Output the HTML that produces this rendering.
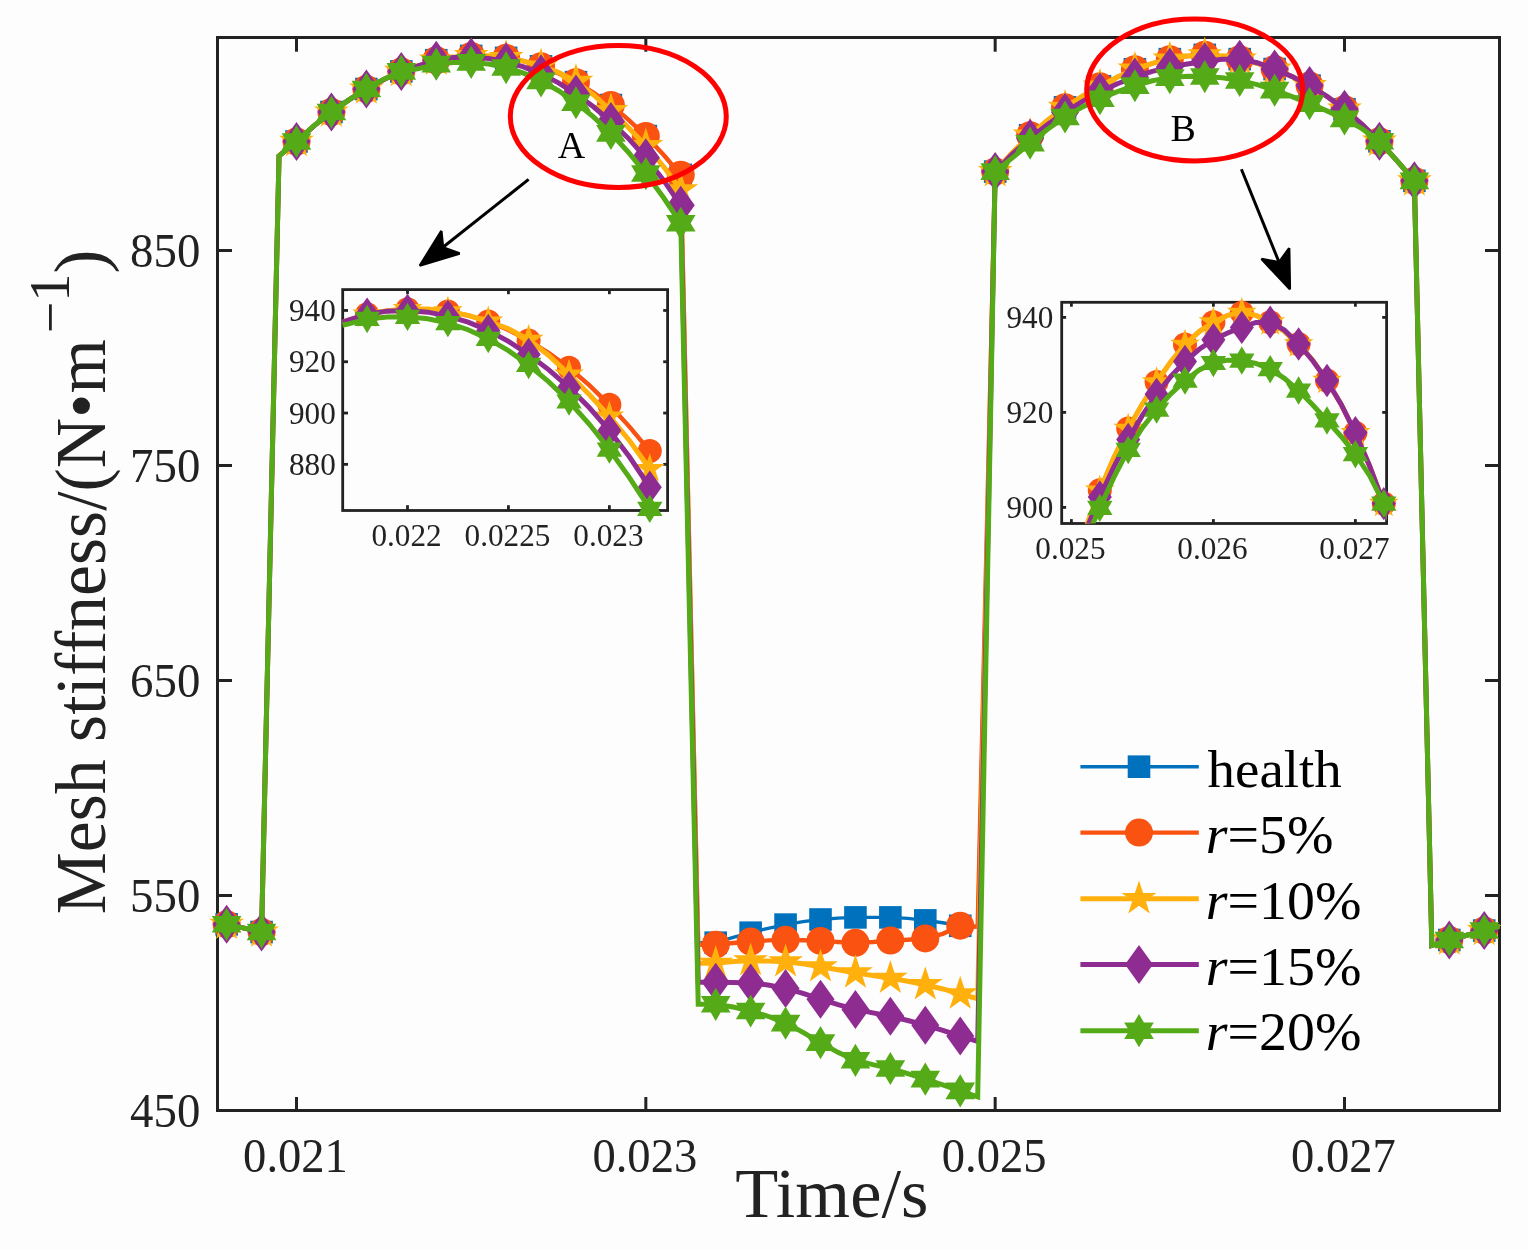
<!DOCTYPE html>
<html lang="en"><head><meta charset="utf-8"><title>Mesh stiffness</title>
<style>
html,body{margin:0;padding:0;background:#fdfdfd;}
body{width:1528px;height:1250px;overflow:hidden;}
svg{display:block;}
</style></head><body>
<svg width="1528" height="1250" viewBox="0 0 1528 1250" font-family="'Liberation Serif', serif">
<rect width="1528" height="1250" fill="#fdfdfd"/>
<defs>
<clipPath id="cm"><rect x="217.5" y="37.5" width="1282" height="1073"/></clipPath>
<clipPath id="ca"><rect x="342.7" y="289.6" width="324.9" height="220.9"/></clipPath>
<clipPath id="cb"><rect x="1061.7" y="302.3" width="324.9" height="221.2"/></clipPath>
</defs>
<g stroke="#222222" stroke-width="3" fill="none" stroke-linecap="butt">
<rect x="217.5" y="37.5" width="1282" height="1073"/>
<line x1="296.50" y1="1110.5" x2="296.50" y2="1097.00"/>
<line x1="296.50" y1="37.5" x2="296.50" y2="51.70"/>
<line x1="645.83" y1="1110.5" x2="645.83" y2="1097.00"/>
<line x1="645.83" y1="37.5" x2="645.83" y2="51.70"/>
<line x1="995.17" y1="1110.5" x2="995.17" y2="1097.00"/>
<line x1="995.17" y1="37.5" x2="995.17" y2="51.70"/>
<line x1="1344.50" y1="1110.5" x2="1344.50" y2="1097.00"/>
<line x1="1344.50" y1="37.5" x2="1344.50" y2="51.70"/>
<line x1="217.5" y1="895.50" x2="232.00" y2="895.50"/>
<line x1="1499.5" y1="895.50" x2="1485.00" y2="895.50"/>
<line x1="217.5" y1="680.50" x2="232.00" y2="680.50"/>
<line x1="1499.5" y1="680.50" x2="1485.00" y2="680.50"/>
<line x1="217.5" y1="465.50" x2="232.00" y2="465.50"/>
<line x1="1499.5" y1="465.50" x2="1485.00" y2="465.50"/>
<line x1="217.5" y1="250.50" x2="232.00" y2="250.50"/>
<line x1="1499.5" y1="250.50" x2="1485.00" y2="250.50"/>
</g>
<g id="main">
<polyline clip-path="url(#cm)" points="209.17,920.44 226.63,924.31 244.10,928.18 261.57,932.05 279.03,155.90 296.50,141.49 313.97,125.86 331.43,112.04 348.90,99.84 366.37,89.03 383.83,79.50 401.30,71.41 418.77,65.60 436.23,60.23 453.70,57.25 471.17,55.92 488.63,56.12 506.10,57.86 523.57,61.20 541.03,66.31 558.50,73.34 575.97,82.16 593.43,92.66 610.90,105.05 628.37,119.55 645.83,136.10 663.30,154.57 680.77,174.84 698.23,942.70 715.70,942.70 733.17,937.45 750.63,932.70 768.10,928.31 785.57,924.60 803.03,921.64 820.50,919.50 837.97,918.08 855.43,917.40 872.90,917.40 890.37,917.40 907.83,918.42 925.30,920.40 942.77,922.76 960.23,925.80 977.70,926.88 995.17,171.59 1012.63,152.34 1030.10,135.26 1047.57,120.28 1065.03,107.31 1082.50,96.17 1099.97,86.24 1117.43,77.07 1134.90,69.26 1152.37,63.41 1169.83,59.15 1187.30,56.08 1204.77,54.85 1222.23,56.08 1239.70,59.15 1257.17,63.40 1274.63,69.04 1292.10,76.45 1309.57,85.60 1327.03,96.45 1344.50,109.24 1361.97,124.23 1379.43,141.28 1396.90,160.63 1414.37,180.84 1431.83,945.38 1449.30,940.01 1466.77,935.27 1484.23,930.54 1501.70,925.81" fill="none" stroke="#0072BD" stroke-width="3.40" stroke-linejoin="miter" stroke-miterlimit="3"/>
<rect x="215.33" y="913.01" width="22.60" height="22.60" fill="#0072BD"/>
<rect x="250.27" y="920.75" width="22.60" height="22.60" fill="#0072BD"/>
<rect x="285.20" y="130.19" width="22.60" height="22.60" fill="#0072BD"/>
<rect x="320.13" y="100.74" width="22.60" height="22.60" fill="#0072BD"/>
<rect x="355.07" y="77.73" width="22.60" height="22.60" fill="#0072BD"/>
<rect x="390.00" y="60.11" width="22.60" height="22.60" fill="#0072BD"/>
<rect x="424.93" y="48.93" width="22.60" height="22.60" fill="#0072BD"/>
<rect x="459.87" y="44.62" width="22.60" height="22.60" fill="#0072BD"/>
<rect x="494.80" y="46.56" width="22.60" height="22.60" fill="#0072BD"/>
<rect x="529.73" y="55.01" width="22.60" height="22.60" fill="#0072BD"/>
<rect x="564.67" y="70.86" width="22.60" height="22.60" fill="#0072BD"/>
<rect x="599.60" y="93.75" width="22.60" height="22.60" fill="#0072BD"/>
<rect x="634.53" y="124.80" width="22.60" height="22.60" fill="#0072BD"/>
<rect x="669.47" y="163.54" width="22.60" height="22.60" fill="#0072BD"/>
<rect x="704.40" y="931.40" width="22.60" height="22.60" fill="#0072BD"/>
<rect x="739.33" y="921.40" width="22.60" height="22.60" fill="#0072BD"/>
<rect x="774.27" y="913.30" width="22.60" height="22.60" fill="#0072BD"/>
<rect x="809.20" y="908.20" width="22.60" height="22.60" fill="#0072BD"/>
<rect x="844.13" y="906.10" width="22.60" height="22.60" fill="#0072BD"/>
<rect x="879.07" y="906.10" width="22.60" height="22.60" fill="#0072BD"/>
<rect x="914.00" y="909.10" width="22.60" height="22.60" fill="#0072BD"/>
<rect x="948.93" y="914.50" width="22.60" height="22.60" fill="#0072BD"/>
<rect x="983.87" y="160.29" width="22.60" height="22.60" fill="#0072BD"/>
<rect x="1018.80" y="123.96" width="22.60" height="22.60" fill="#0072BD"/>
<rect x="1053.73" y="96.01" width="22.60" height="22.60" fill="#0072BD"/>
<rect x="1088.67" y="74.94" width="22.60" height="22.60" fill="#0072BD"/>
<rect x="1123.60" y="57.96" width="22.60" height="22.60" fill="#0072BD"/>
<rect x="1158.53" y="47.85" width="22.60" height="22.60" fill="#0072BD"/>
<rect x="1193.47" y="43.55" width="22.60" height="22.60" fill="#0072BD"/>
<rect x="1228.40" y="47.85" width="22.60" height="22.60" fill="#0072BD"/>
<rect x="1263.33" y="57.74" width="22.60" height="22.60" fill="#0072BD"/>
<rect x="1298.27" y="74.30" width="22.60" height="22.60" fill="#0072BD"/>
<rect x="1333.20" y="97.94" width="22.60" height="22.60" fill="#0072BD"/>
<rect x="1368.13" y="129.98" width="22.60" height="22.60" fill="#0072BD"/>
<rect x="1403.07" y="169.54" width="22.60" height="22.60" fill="#0072BD"/>
<rect x="1438.00" y="928.71" width="22.60" height="22.60" fill="#0072BD"/>
<rect x="1472.93" y="919.24" width="22.60" height="22.60" fill="#0072BD"/>
<polyline clip-path="url(#cm)" points="209.17,920.44 226.63,924.31 244.10,928.18 261.57,932.05 279.03,155.90 296.50,141.49 313.97,125.86 331.43,112.04 348.90,99.84 366.37,89.03 383.83,79.50 401.30,71.41 418.77,65.60 436.23,60.23 453.70,57.25 471.17,55.92 488.63,56.12 506.10,57.86 523.57,61.20 541.03,66.31 558.50,73.34 575.97,82.16 593.43,92.66 610.90,105.05 628.37,119.55 645.83,136.10 663.30,154.57 680.77,174.84 698.23,944.70 715.70,944.70 733.17,942.97 750.63,941.60 768.10,940.42 785.57,939.80 803.03,940.18 820.50,940.90 837.97,942.02 855.43,942.80 872.90,941.97 890.37,940.60 907.83,939.69 925.30,938.40 942.77,933.82 960.23,925.70 977.70,926.77 995.17,171.59 1012.63,152.34 1030.10,135.26 1047.57,120.28 1065.03,107.31 1082.50,96.17 1099.97,86.24 1117.43,77.07 1134.90,69.26 1152.37,63.41 1169.83,59.15 1187.30,56.08 1204.77,54.85 1222.23,56.08 1239.70,59.15 1257.17,63.40 1274.63,69.04 1292.10,76.45 1309.57,85.60 1327.03,96.45 1344.50,109.24 1361.97,124.23 1379.43,141.28 1396.90,160.63 1414.37,180.84 1431.83,945.38 1449.30,940.01 1466.77,935.27 1484.23,930.54 1501.70,925.81" fill="none" stroke="#FA5210" stroke-width="4.40" stroke-linejoin="miter" stroke-miterlimit="3"/>
<circle cx="226.63" cy="924.31" r="14.00" fill="#FA5210"/>
<circle cx="261.57" cy="932.05" r="14.00" fill="#FA5210"/>
<circle cx="296.50" cy="141.49" r="14.00" fill="#FA5210"/>
<circle cx="331.43" cy="112.04" r="14.00" fill="#FA5210"/>
<circle cx="366.37" cy="89.03" r="14.00" fill="#FA5210"/>
<circle cx="401.30" cy="71.41" r="14.00" fill="#FA5210"/>
<circle cx="436.23" cy="60.23" r="14.00" fill="#FA5210"/>
<circle cx="471.17" cy="55.92" r="14.00" fill="#FA5210"/>
<circle cx="506.10" cy="57.86" r="14.00" fill="#FA5210"/>
<circle cx="541.03" cy="66.31" r="14.00" fill="#FA5210"/>
<circle cx="575.97" cy="82.16" r="14.00" fill="#FA5210"/>
<circle cx="610.90" cy="105.05" r="14.00" fill="#FA5210"/>
<circle cx="645.83" cy="136.10" r="14.00" fill="#FA5210"/>
<circle cx="680.77" cy="174.84" r="14.00" fill="#FA5210"/>
<circle cx="715.70" cy="944.70" r="14.00" fill="#FA5210"/>
<circle cx="750.63" cy="941.60" r="14.00" fill="#FA5210"/>
<circle cx="785.57" cy="939.80" r="14.00" fill="#FA5210"/>
<circle cx="820.50" cy="940.90" r="14.00" fill="#FA5210"/>
<circle cx="855.43" cy="942.80" r="14.00" fill="#FA5210"/>
<circle cx="890.37" cy="940.60" r="14.00" fill="#FA5210"/>
<circle cx="925.30" cy="938.40" r="14.00" fill="#FA5210"/>
<circle cx="960.23" cy="925.70" r="14.00" fill="#FA5210"/>
<circle cx="995.17" cy="171.59" r="14.00" fill="#FA5210"/>
<circle cx="1030.10" cy="135.26" r="14.00" fill="#FA5210"/>
<circle cx="1065.03" cy="107.31" r="14.00" fill="#FA5210"/>
<circle cx="1099.97" cy="86.24" r="14.00" fill="#FA5210"/>
<circle cx="1134.90" cy="69.26" r="14.00" fill="#FA5210"/>
<circle cx="1169.83" cy="59.15" r="14.00" fill="#FA5210"/>
<circle cx="1204.77" cy="54.85" r="14.00" fill="#FA5210"/>
<circle cx="1239.70" cy="59.15" r="14.00" fill="#FA5210"/>
<circle cx="1274.63" cy="69.04" r="14.00" fill="#FA5210"/>
<circle cx="1309.57" cy="85.60" r="14.00" fill="#FA5210"/>
<circle cx="1344.50" cy="109.24" r="14.00" fill="#FA5210"/>
<circle cx="1379.43" cy="141.28" r="14.00" fill="#FA5210"/>
<circle cx="1414.37" cy="180.84" r="14.00" fill="#FA5210"/>
<circle cx="1449.30" cy="940.01" r="14.00" fill="#FA5210"/>
<circle cx="1484.23" cy="930.54" r="14.00" fill="#FA5210"/>
<polyline clip-path="url(#cm)" points="209.17,920.44 226.63,924.31 244.10,928.18 261.57,932.05 279.03,155.90 296.50,141.49 313.97,125.86 331.43,112.04 348.90,99.84 366.37,89.03 383.83,79.50 401.30,71.41 418.77,65.60 436.23,60.23 453.70,57.16 471.17,55.71 488.63,55.84 506.10,57.64 523.57,61.17 541.03,66.09 558.50,72.37 575.97,81.51 593.43,94.75 610.90,110.62 628.37,127.49 645.83,145.73 663.30,166.22 680.77,189.83 698.23,963.30 715.70,963.30 733.17,961.52 750.63,960.80 768.10,961.09 785.57,961.80 803.03,963.82 820.50,966.80 837.97,969.82 855.43,972.90 872.90,975.58 890.37,978.30 907.83,981.28 925.30,984.70 942.77,988.95 960.23,994.00 977.70,998.65 995.17,171.59 1012.63,152.34 1030.10,135.26 1047.57,120.28 1065.03,107.31 1082.50,96.17 1099.97,86.24 1117.43,77.07 1134.90,69.26 1152.37,63.41 1169.83,59.15 1187.30,56.08 1204.77,54.85 1222.23,56.08 1239.70,59.15 1257.17,63.40 1274.63,69.04 1292.10,76.45 1309.57,85.60 1327.03,96.45 1344.50,109.24 1361.97,124.23 1379.43,141.28 1396.90,160.63 1414.37,180.84 1431.83,945.38 1449.30,940.01 1466.77,935.27 1484.23,930.54 1501.70,925.81" fill="none" stroke="#FFB00D" stroke-width="5.00" stroke-linejoin="miter" stroke-miterlimit="3"/>
<polygon points="226.63,906.01 230.74,918.65 244.04,918.65 233.28,926.47 237.39,939.12 226.63,931.30 215.88,939.12 219.98,926.47 209.23,918.65 222.52,918.65" fill="#FFB00D"/>
<polygon points="261.57,913.75 265.68,926.39 278.97,926.39 268.22,934.21 272.32,946.86 261.57,939.04 250.81,946.86 254.92,934.21 244.16,926.39 257.46,926.39" fill="#FFB00D"/>
<polygon points="296.50,123.19 300.61,135.84 313.90,135.84 303.15,143.66 307.26,156.30 296.50,148.49 285.74,156.30 289.85,143.66 279.10,135.84 292.39,135.84" fill="#FFB00D"/>
<polygon points="331.43,93.74 335.54,106.38 348.84,106.38 338.08,114.20 342.19,126.85 331.43,119.03 320.68,126.85 324.78,114.20 314.03,106.38 327.32,106.38" fill="#FFB00D"/>
<polygon points="366.37,70.73 370.48,83.38 383.77,83.38 373.02,91.20 377.12,103.84 366.37,96.03 355.61,103.84 359.72,91.20 348.96,83.38 362.26,83.38" fill="#FFB00D"/>
<polygon points="401.30,53.11 405.41,65.75 418.70,65.75 407.95,73.57 412.06,86.21 401.30,78.40 390.54,86.21 394.65,73.57 383.90,65.75 397.19,65.75" fill="#FFB00D"/>
<polygon points="436.23,41.93 440.34,54.57 453.64,54.57 442.88,62.39 446.99,75.03 436.23,67.22 425.48,75.03 429.58,62.39 418.83,54.57 432.12,54.57" fill="#FFB00D"/>
<polygon points="471.17,37.41 475.28,50.05 488.57,50.05 477.82,57.87 481.92,70.52 471.17,62.70 460.41,70.52 464.52,57.87 453.76,50.05 467.06,50.05" fill="#FFB00D"/>
<polygon points="506.10,39.34 510.21,51.99 523.50,51.99 512.75,59.81 516.86,72.45 506.10,64.64 495.34,72.45 499.45,59.81 488.70,51.99 501.99,51.99" fill="#FFB00D"/>
<polygon points="541.03,47.79 545.14,60.44 558.44,60.44 547.68,68.25 551.79,80.90 541.03,73.09 530.28,80.90 534.38,68.25 523.63,60.44 536.92,60.44" fill="#FFB00D"/>
<polygon points="575.97,63.21 580.08,75.85 593.37,75.85 582.62,83.67 586.72,96.32 575.97,88.50 565.21,96.32 569.32,83.67 558.56,75.85 571.86,75.85" fill="#FFB00D"/>
<polygon points="610.90,92.32 615.01,104.97 628.30,104.97 617.55,112.78 621.66,125.43 610.90,117.61 600.14,125.43 604.25,112.78 593.50,104.97 606.79,104.97" fill="#FFB00D"/>
<polygon points="645.83,127.43 649.94,140.07 663.24,140.08 652.48,147.89 656.59,160.54 645.83,152.72 635.08,160.54 639.18,147.89 628.43,140.08 641.72,140.07" fill="#FFB00D"/>
<polygon points="680.77,171.53 684.88,184.17 698.17,184.17 687.42,191.99 691.52,204.63 680.77,196.82 670.01,204.63 674.12,191.99 663.36,184.17 676.66,184.17" fill="#FFB00D"/>
<polygon points="715.70,945.00 719.81,957.64 733.10,957.64 722.35,965.46 726.46,978.11 715.70,970.29 704.94,978.11 709.05,965.46 698.30,957.64 711.59,957.64" fill="#FFB00D"/>
<polygon points="750.63,942.50 754.74,955.14 768.04,955.14 757.28,962.96 761.39,975.61 750.63,967.79 739.88,975.61 743.98,962.96 733.23,955.14 746.52,955.14" fill="#FFB00D"/>
<polygon points="785.57,943.50 789.68,956.14 802.97,956.14 792.22,963.96 796.32,976.61 785.57,968.79 774.81,976.61 778.92,963.96 768.16,956.14 781.46,956.14" fill="#FFB00D"/>
<polygon points="820.50,948.50 824.61,961.14 837.90,961.14 827.15,968.96 831.26,981.61 820.50,973.79 809.74,981.61 813.85,968.96 803.10,961.14 816.39,961.14" fill="#FFB00D"/>
<polygon points="855.43,954.60 859.54,967.24 872.84,967.24 862.08,975.06 866.19,987.71 855.43,979.89 844.68,987.71 848.78,975.06 838.03,967.24 851.32,967.24" fill="#FFB00D"/>
<polygon points="890.37,960.00 894.48,972.64 907.77,972.64 897.02,980.46 901.12,993.11 890.37,985.29 879.61,993.11 883.72,980.46 872.96,972.64 886.26,972.64" fill="#FFB00D"/>
<polygon points="925.30,966.40 929.41,979.04 942.70,979.04 931.95,986.86 936.06,999.51 925.30,991.69 914.54,999.51 918.65,986.86 907.90,979.04 921.19,979.04" fill="#FFB00D"/>
<polygon points="960.23,975.70 964.34,988.34 977.64,988.34 966.88,996.16 970.99,1008.81 960.23,1000.99 949.48,1008.81 953.58,996.16 942.83,988.34 956.12,988.34" fill="#FFB00D"/>
<polygon points="995.17,153.29 999.28,165.94 1012.57,165.94 1001.82,173.76 1005.92,186.40 995.17,178.59 984.41,186.40 988.52,173.76 977.76,165.94 991.06,165.94" fill="#FFB00D"/>
<polygon points="1030.10,116.96 1034.21,129.60 1047.50,129.60 1036.75,137.42 1040.86,150.07 1030.10,142.25 1019.34,150.07 1023.45,137.42 1012.70,129.60 1025.99,129.60" fill="#FFB00D"/>
<polygon points="1065.03,89.01 1069.14,101.65 1082.44,101.65 1071.68,109.47 1075.79,122.12 1065.03,114.30 1054.28,122.12 1058.38,109.47 1047.63,101.65 1060.92,101.65" fill="#FFB00D"/>
<polygon points="1099.97,67.94 1104.08,80.58 1117.37,80.58 1106.62,88.40 1110.72,101.05 1099.97,93.23 1089.21,101.05 1093.32,88.40 1082.56,80.58 1095.86,80.58" fill="#FFB00D"/>
<polygon points="1134.90,50.96 1139.01,63.60 1152.30,63.60 1141.55,71.42 1145.66,84.06 1134.90,76.25 1124.14,84.06 1128.25,71.42 1117.50,63.60 1130.79,63.60" fill="#FFB00D"/>
<polygon points="1169.83,40.85 1173.94,53.49 1187.24,53.49 1176.48,61.31 1180.59,73.96 1169.83,66.14 1159.08,73.96 1163.18,61.31 1152.43,53.49 1165.72,53.49" fill="#FFB00D"/>
<polygon points="1204.77,36.55 1208.88,49.19 1222.17,49.19 1211.42,57.01 1215.52,69.66 1204.77,61.84 1194.01,69.66 1198.12,57.01 1187.36,49.19 1200.66,49.19" fill="#FFB00D"/>
<polygon points="1239.70,40.85 1243.81,53.49 1257.10,53.49 1246.35,61.31 1250.46,73.96 1239.70,66.14 1228.94,73.96 1233.05,61.31 1222.30,53.49 1235.59,53.49" fill="#FFB00D"/>
<polygon points="1274.63,50.74 1278.74,63.38 1292.04,63.38 1281.28,71.20 1285.39,83.85 1274.63,76.03 1263.88,83.85 1267.98,71.20 1257.23,63.38 1270.52,63.38" fill="#FFB00D"/>
<polygon points="1309.57,67.30 1313.68,79.94 1326.97,79.94 1316.22,87.76 1320.32,100.40 1309.57,92.59 1298.81,100.40 1302.92,87.76 1292.16,79.94 1305.46,79.94" fill="#FFB00D"/>
<polygon points="1344.50,90.94 1348.61,103.59 1361.90,103.59 1351.15,111.41 1355.26,124.05 1344.50,116.24 1333.74,124.05 1337.85,111.41 1327.10,103.59 1340.39,103.59" fill="#FFB00D"/>
<polygon points="1379.43,122.98 1383.54,135.62 1396.84,135.62 1386.08,143.44 1390.19,156.09 1379.43,148.27 1368.68,156.09 1372.78,143.44 1362.03,135.62 1375.32,135.62" fill="#FFB00D"/>
<polygon points="1414.37,162.54 1418.48,175.18 1431.77,175.18 1421.02,183.00 1425.12,195.65 1414.37,187.83 1403.61,195.65 1407.72,183.00 1396.96,175.18 1410.26,175.18" fill="#FFB00D"/>
<polygon points="1449.30,921.71 1453.41,934.35 1466.70,934.35 1455.95,942.17 1460.06,954.81 1449.30,947.00 1438.54,954.81 1442.65,942.17 1431.90,934.35 1445.19,934.35" fill="#FFB00D"/>
<polygon points="1484.23,912.24 1488.34,924.89 1501.64,924.89 1490.88,932.71 1494.99,945.35 1484.23,937.54 1473.48,945.35 1477.58,932.71 1466.83,924.89 1480.12,924.89" fill="#FFB00D"/>
<polyline clip-path="url(#cm)" points="209.17,920.44 226.63,924.31 244.10,928.18 261.57,932.05 279.03,155.90 296.50,141.49 313.97,125.86 331.43,112.04 348.90,99.83 366.37,89.03 383.83,79.52 401.30,71.41 418.77,65.60 436.23,60.23 453.70,57.58 471.17,57.00 488.63,58.43 506.10,61.73 523.57,66.81 541.03,73.81 558.50,82.90 575.97,93.94 593.43,106.78 610.90,121.54 628.37,138.41 645.83,157.73 663.30,179.88 680.77,205.24 698.23,982.20 715.70,982.20 733.17,982.43 750.63,983.00 768.10,984.97 785.57,988.40 803.03,993.39 820.50,999.20 837.97,1004.58 855.43,1009.40 872.90,1012.91 890.37,1016.30 907.83,1020.50 925.30,1025.20 942.77,1030.35 960.23,1036.00 977.70,1041.40 995.17,171.59 1012.63,153.88 1030.10,138.27 1047.57,124.49 1065.03,112.26 1082.50,101.35 1099.97,91.83 1117.43,83.76 1134.90,76.99 1152.37,71.42 1169.83,67.11 1187.30,64.02 1204.77,61.52 1222.23,59.29 1239.70,59.15 1257.17,62.76 1274.63,69.04 1292.10,76.62 1309.57,85.60 1327.03,96.40 1344.50,109.24 1361.97,124.24 1379.43,141.28 1396.90,160.63 1414.37,180.84 1431.83,945.38 1449.30,940.01 1466.77,935.27 1484.23,930.54 1501.70,925.81" fill="none" stroke="#8E2C92" stroke-width="5.00" stroke-linejoin="miter" stroke-miterlimit="3"/>
<polygon points="226.63,904.81 240.63,924.31 226.63,943.81 212.63,924.31" fill="#8E2C92"/>
<polygon points="261.57,912.55 275.57,932.05 261.57,951.55 247.57,932.05" fill="#8E2C92"/>
<polygon points="296.50,121.99 310.50,141.49 296.50,160.99 282.50,141.49" fill="#8E2C92"/>
<polygon points="331.43,92.54 345.43,112.04 331.43,131.54 317.43,112.04" fill="#8E2C92"/>
<polygon points="366.37,69.53 380.37,89.03 366.37,108.53 352.37,89.03" fill="#8E2C92"/>
<polygon points="401.30,51.91 415.30,71.41 401.30,90.91 387.30,71.41" fill="#8E2C92"/>
<polygon points="436.23,40.73 450.23,60.23 436.23,79.73 422.23,60.23" fill="#8E2C92"/>
<polygon points="471.17,37.50 485.17,57.00 471.17,76.50 457.17,57.00" fill="#8E2C92"/>
<polygon points="506.10,42.23 520.10,61.73 506.10,81.23 492.10,61.73" fill="#8E2C92"/>
<polygon points="541.03,54.31 555.03,73.81 541.03,93.31 527.03,73.81" fill="#8E2C92"/>
<polygon points="575.97,74.44 589.97,93.94 575.97,113.44 561.97,93.94" fill="#8E2C92"/>
<polygon points="610.90,102.04 624.90,121.54 610.90,141.04 596.90,121.54" fill="#8E2C92"/>
<polygon points="645.83,138.23 659.83,157.73 645.83,177.23 631.83,157.73" fill="#8E2C92"/>
<polygon points="680.77,185.74 694.77,205.24 680.77,224.74 666.77,205.24" fill="#8E2C92"/>
<polygon points="715.70,962.70 729.70,982.20 715.70,1001.70 701.70,982.20" fill="#8E2C92"/>
<polygon points="750.63,963.50 764.63,983.00 750.63,1002.50 736.63,983.00" fill="#8E2C92"/>
<polygon points="785.57,968.90 799.57,988.40 785.57,1007.90 771.57,988.40" fill="#8E2C92"/>
<polygon points="820.50,979.70 834.50,999.20 820.50,1018.70 806.50,999.20" fill="#8E2C92"/>
<polygon points="855.43,989.90 869.43,1009.40 855.43,1028.90 841.43,1009.40" fill="#8E2C92"/>
<polygon points="890.37,996.80 904.37,1016.30 890.37,1035.80 876.37,1016.30" fill="#8E2C92"/>
<polygon points="925.30,1005.70 939.30,1025.20 925.30,1044.70 911.30,1025.20" fill="#8E2C92"/>
<polygon points="960.23,1016.50 974.23,1036.00 960.23,1055.50 946.23,1036.00" fill="#8E2C92"/>
<polygon points="995.17,152.09 1009.17,171.59 995.17,191.09 981.17,171.59" fill="#8E2C92"/>
<polygon points="1030.10,118.77 1044.10,138.27 1030.10,157.77 1016.10,138.27" fill="#8E2C92"/>
<polygon points="1065.03,92.76 1079.03,112.26 1065.03,131.76 1051.03,112.26" fill="#8E2C92"/>
<polygon points="1099.97,72.33 1113.97,91.83 1099.97,111.33 1085.97,91.83" fill="#8E2C92"/>
<polygon points="1134.90,57.49 1148.90,76.99 1134.90,96.49 1120.90,76.99" fill="#8E2C92"/>
<polygon points="1169.83,47.61 1183.83,67.11 1169.83,86.61 1155.83,67.11" fill="#8E2C92"/>
<polygon points="1204.77,42.02 1218.77,61.52 1204.77,81.02 1190.77,61.52" fill="#8E2C92"/>
<polygon points="1239.70,39.65 1253.70,59.15 1239.70,78.65 1225.70,59.15" fill="#8E2C92"/>
<polygon points="1274.63,49.54 1288.63,69.04 1274.63,88.54 1260.63,69.04" fill="#8E2C92"/>
<polygon points="1309.57,66.10 1323.57,85.60 1309.57,105.10 1295.57,85.60" fill="#8E2C92"/>
<polygon points="1344.50,89.74 1358.50,109.24 1344.50,128.74 1330.50,109.24" fill="#8E2C92"/>
<polygon points="1379.43,121.78 1393.43,141.28 1379.43,160.78 1365.43,141.28" fill="#8E2C92"/>
<polygon points="1414.37,161.34 1428.37,180.84 1414.37,200.34 1400.37,180.84" fill="#8E2C92"/>
<polygon points="1449.30,920.51 1463.30,940.01 1449.30,959.51 1435.30,940.01" fill="#8E2C92"/>
<polygon points="1484.23,911.04 1498.23,930.54 1484.23,950.04 1470.23,930.54" fill="#8E2C92"/>
<polyline clip-path="url(#cm)" points="209.17,920.44 226.63,924.31 244.10,928.18 261.57,932.05 279.03,155.90 296.50,141.49 313.97,125.74 331.43,112.04 348.90,99.95 366.37,89.03 383.83,79.16 401.30,71.41 418.77,68.61 436.23,64.10 453.70,62.58 471.17,62.38 488.63,63.97 506.10,67.54 523.57,73.15 541.03,80.87 558.50,90.72 575.97,102.71 593.43,116.86 610.90,133.33 628.37,152.24 645.83,173.57 663.30,197.26 680.77,223.24 698.23,1004.30 715.70,1004.30 733.17,1007.07 750.63,1011.00 768.10,1016.26 785.57,1023.10 803.03,1032.40 820.50,1042.60 837.97,1052.37 855.43,1060.30 872.90,1064.65 890.37,1068.50 907.83,1073.56 925.30,1079.10 942.77,1084.85 960.23,1090.90 977.70,1096.80 995.17,171.59 1012.63,157.65 1030.10,143.22 1047.57,129.32 1065.03,116.99 1082.50,106.95 1099.97,98.71 1117.43,91.61 1134.90,85.60 1152.37,80.81 1169.83,77.64 1187.30,76.36 1204.77,76.57 1222.23,77.85 1239.70,80.43 1257.17,84.59 1274.63,90.11 1292.10,96.63 1309.57,103.66 1327.03,110.89 1344.50,118.92 1361.97,128.63 1379.43,141.28 1396.90,160.63 1414.37,180.84 1431.83,945.38 1449.30,940.01 1466.77,935.27 1484.23,930.54 1501.70,925.81" fill="none" stroke="#55AA18" stroke-width="5.00" stroke-linejoin="miter" stroke-miterlimit="3"/>
<polygon points="226.63,907.71 231.57,916.01 241.44,916.01 236.51,924.31 241.44,932.61 231.57,932.61 226.63,940.91 221.70,932.61 211.83,932.61 216.76,924.31 211.83,916.01 221.70,916.01" fill="#55AA18"/>
<polygon points="261.57,915.45 266.50,923.75 276.37,923.75 271.44,932.05 276.37,940.35 266.50,940.35 261.57,948.65 256.63,940.35 246.76,940.35 251.69,932.05 246.76,923.75 256.63,923.75" fill="#55AA18"/>
<polygon points="296.50,124.89 301.44,133.19 311.31,133.19 306.37,141.49 311.31,149.79 301.44,149.80 296.50,158.09 291.56,149.80 281.69,149.79 286.63,141.49 281.69,133.19 291.56,133.19" fill="#55AA18"/>
<polygon points="331.43,95.44 336.37,103.74 346.24,103.74 341.31,112.04 346.24,120.34 336.37,120.34 331.43,128.64 326.50,120.34 316.63,120.34 321.56,112.04 316.63,103.74 326.50,103.74" fill="#55AA18"/>
<polygon points="366.37,72.43 371.30,80.73 381.17,80.73 376.24,89.03 381.17,97.33 371.30,97.34 366.37,105.63 361.43,97.34 351.56,97.33 356.49,89.03 351.56,80.73 361.43,80.73" fill="#55AA18"/>
<polygon points="401.30,54.81 406.24,63.10 416.11,63.11 411.17,71.41 416.11,79.71 406.24,79.71 401.30,88.01 396.36,79.71 386.49,79.71 391.43,71.41 386.49,63.11 396.36,63.10" fill="#55AA18"/>
<polygon points="436.23,47.50 441.17,55.79 451.04,55.80 446.11,64.10 451.04,72.40 441.17,72.40 436.23,80.70 431.30,72.40 421.43,72.40 426.36,64.10 421.43,55.80 431.30,55.79" fill="#55AA18"/>
<polygon points="471.17,45.77 476.10,54.07 485.97,54.08 481.04,62.38 485.97,70.67 476.10,70.68 471.17,78.97 466.23,70.68 456.36,70.67 461.29,62.38 456.36,54.07 466.23,54.07" fill="#55AA18"/>
<polygon points="506.10,50.94 511.04,59.23 520.91,59.24 515.97,67.54 520.91,75.84 511.04,75.84 506.10,84.14 501.16,75.84 491.29,75.84 496.23,67.54 491.29,59.24 501.16,59.23" fill="#55AA18"/>
<polygon points="541.03,64.27 545.97,72.56 555.84,72.57 550.91,80.87 555.84,89.17 545.97,89.17 541.03,97.47 536.10,89.17 526.23,89.17 531.16,80.87 526.23,72.57 536.10,72.56" fill="#55AA18"/>
<polygon points="575.97,86.11 580.90,94.41 590.77,94.41 585.84,102.71 590.77,111.01 580.90,111.01 575.97,119.31 571.03,111.01 561.16,111.01 566.09,102.71 561.16,94.41 571.03,94.41" fill="#55AA18"/>
<polygon points="610.90,116.73 615.84,125.02 625.71,125.03 620.77,133.33 625.71,141.63 615.84,141.63 610.90,149.93 605.96,141.63 596.09,141.63 601.03,133.33 596.09,125.03 605.96,125.02" fill="#55AA18"/>
<polygon points="645.83,156.97 650.77,165.27 660.64,165.27 655.71,173.57 660.64,181.87 650.77,181.87 645.83,190.17 640.90,181.87 631.03,181.87 635.96,173.57 631.03,165.27 640.90,165.27" fill="#55AA18"/>
<polygon points="680.77,206.64 685.70,214.94 695.57,214.94 690.64,223.24 695.57,231.54 685.70,231.54 680.77,239.84 675.83,231.54 665.96,231.54 670.89,223.24 665.96,214.94 675.83,214.94" fill="#55AA18"/>
<polygon points="715.70,987.70 720.64,996.00 730.51,996.00 725.57,1004.30 730.51,1012.60 720.64,1012.60 715.70,1020.90 710.76,1012.60 700.89,1012.60 705.83,1004.30 700.89,996.00 710.76,996.00" fill="#55AA18"/>
<polygon points="750.63,994.40 755.57,1002.70 765.44,1002.70 760.51,1011.00 765.44,1019.30 755.57,1019.30 750.63,1027.60 745.70,1019.30 735.83,1019.30 740.76,1011.00 735.83,1002.70 745.70,1002.70" fill="#55AA18"/>
<polygon points="785.57,1006.50 790.50,1014.80 800.37,1014.80 795.44,1023.10 800.37,1031.40 790.50,1031.40 785.57,1039.70 780.63,1031.40 770.76,1031.40 775.69,1023.10 770.76,1014.80 780.63,1014.80" fill="#55AA18"/>
<polygon points="820.50,1026.00 825.44,1034.30 835.31,1034.30 830.37,1042.60 835.31,1050.90 825.44,1050.90 820.50,1059.20 815.56,1050.90 805.69,1050.90 810.63,1042.60 805.69,1034.30 815.56,1034.30" fill="#55AA18"/>
<polygon points="855.43,1043.70 860.37,1052.00 870.24,1052.00 865.31,1060.30 870.24,1068.60 860.37,1068.60 855.43,1076.90 850.50,1068.60 840.63,1068.60 845.56,1060.30 840.63,1052.00 850.50,1052.00" fill="#55AA18"/>
<polygon points="890.37,1051.90 895.30,1060.20 905.17,1060.20 900.24,1068.50 905.17,1076.80 895.30,1076.80 890.37,1085.10 885.43,1076.80 875.56,1076.80 880.49,1068.50 875.56,1060.20 885.43,1060.20" fill="#55AA18"/>
<polygon points="925.30,1062.50 930.24,1070.80 940.11,1070.80 935.17,1079.10 940.11,1087.40 930.24,1087.40 925.30,1095.70 920.36,1087.40 910.49,1087.40 915.43,1079.10 910.49,1070.80 920.36,1070.80" fill="#55AA18"/>
<polygon points="960.23,1074.30 965.17,1082.60 975.04,1082.60 970.11,1090.90 975.04,1099.20 965.17,1099.20 960.23,1107.50 955.30,1099.20 945.43,1099.20 950.36,1090.90 945.43,1082.60 955.30,1082.60" fill="#55AA18"/>
<polygon points="995.17,154.99 1000.10,163.29 1009.97,163.29 1005.04,171.59 1009.97,179.89 1000.10,179.90 995.17,188.19 990.23,179.90 980.36,179.89 985.29,171.59 980.36,163.29 990.23,163.29" fill="#55AA18"/>
<polygon points="1030.10,126.62 1035.04,134.91 1044.91,134.92 1039.97,143.22 1044.91,151.52 1035.04,151.52 1030.10,159.82 1025.16,151.52 1015.29,151.52 1020.23,143.22 1015.29,134.92 1025.16,134.91" fill="#55AA18"/>
<polygon points="1065.03,100.39 1069.97,108.68 1079.84,108.69 1074.91,116.99 1079.84,125.29 1069.97,125.29 1065.03,133.59 1060.10,125.29 1050.23,125.29 1055.16,116.99 1050.23,108.69 1060.10,108.68" fill="#55AA18"/>
<polygon points="1099.97,82.11 1104.90,90.41 1114.77,90.41 1109.84,98.71 1114.77,107.01 1104.90,107.01 1099.97,115.31 1095.03,107.01 1085.16,107.01 1090.09,98.71 1085.16,90.41 1095.03,90.41" fill="#55AA18"/>
<polygon points="1134.90,69.00 1139.84,77.29 1149.71,77.30 1144.77,85.60 1149.71,93.90 1139.84,93.90 1134.90,102.20 1129.96,93.90 1120.09,93.90 1125.03,85.60 1120.09,77.30 1129.96,77.29" fill="#55AA18"/>
<polygon points="1169.83,61.04 1174.77,69.34 1184.64,69.34 1179.71,77.64 1184.64,85.94 1174.77,85.94 1169.83,94.24 1164.90,85.94 1155.03,85.94 1159.96,77.64 1155.03,69.34 1164.90,69.34" fill="#55AA18"/>
<polygon points="1204.77,59.97 1209.70,68.26 1219.57,68.27 1214.64,76.57 1219.57,84.87 1209.70,84.87 1204.77,93.17 1199.83,84.87 1189.96,84.87 1194.89,76.57 1189.96,68.27 1199.83,68.26" fill="#55AA18"/>
<polygon points="1239.70,63.83 1244.64,72.13 1254.51,72.13 1249.57,80.43 1254.51,88.73 1244.64,88.74 1239.70,97.03 1234.76,88.74 1224.89,88.73 1229.83,80.43 1224.89,72.13 1234.76,72.13" fill="#55AA18"/>
<polygon points="1274.63,73.51 1279.57,81.81 1289.44,81.81 1284.51,90.11 1289.44,98.41 1279.57,98.41 1274.63,106.71 1269.70,98.41 1259.83,98.41 1264.76,90.11 1259.83,81.81 1269.70,81.81" fill="#55AA18"/>
<polygon points="1309.57,87.06 1314.50,95.35 1324.37,95.36 1319.44,103.66 1324.37,111.96 1314.50,111.96 1309.57,120.26 1304.63,111.96 1294.76,111.96 1299.69,103.66 1294.76,95.36 1304.63,95.35" fill="#55AA18"/>
<polygon points="1344.50,102.32 1349.44,110.62 1359.31,110.62 1354.37,118.92 1359.31,127.22 1349.44,127.22 1344.50,135.52 1339.56,127.22 1329.69,127.22 1334.63,118.92 1329.69,110.62 1339.56,110.62" fill="#55AA18"/>
<polygon points="1379.43,124.68 1384.37,132.98 1394.24,132.98 1389.31,141.28 1394.24,149.58 1384.37,149.58 1379.43,157.88 1374.50,149.58 1364.63,149.58 1369.56,141.28 1364.63,132.98 1374.50,132.98" fill="#55AA18"/>
<polygon points="1414.37,164.24 1419.30,172.54 1429.17,172.54 1424.24,180.84 1429.17,189.14 1419.30,189.14 1414.37,197.44 1409.43,189.14 1399.56,189.14 1404.49,180.84 1399.56,172.54 1409.43,172.54" fill="#55AA18"/>
<polygon points="1449.30,923.41 1454.24,931.70 1464.11,931.71 1459.17,940.01 1464.11,948.31 1454.24,948.31 1449.30,956.61 1444.36,948.31 1434.49,948.31 1439.43,940.01 1434.49,931.71 1444.36,931.70" fill="#55AA18"/>
<polygon points="1484.23,913.94 1489.17,922.24 1499.04,922.24 1494.11,930.54 1499.04,938.84 1489.17,938.85 1484.23,947.14 1479.30,938.85 1469.43,938.84 1474.36,930.54 1469.43,922.24 1479.30,922.24" fill="#55AA18"/>
</g>
<text transform="translate(295.50,1172.20) scale(1.0000,1.0250)" font-size="46.60" text-anchor="middle" fill="#222222" >0.021</text>
<text transform="translate(644.83,1172.20) scale(1.0000,1.0250)" font-size="46.60" text-anchor="middle" fill="#222222" >0.023</text>
<text transform="translate(994.17,1172.20) scale(1.0000,1.0250)" font-size="46.60" text-anchor="middle" fill="#222222" >0.025</text>
<text transform="translate(1343.50,1172.20) scale(1.0000,1.0250)" font-size="46.60" text-anchor="middle" fill="#222222" >0.027</text>
<text transform="translate(200.30,1127.30) scale(1.0050,1.0250)" font-size="46.60" text-anchor="end" fill="#222222" >450</text>
<text transform="translate(200.30,912.30) scale(1.0050,1.0250)" font-size="46.60" text-anchor="end" fill="#222222" >550</text>
<text transform="translate(200.30,697.30) scale(1.0050,1.0250)" font-size="46.60" text-anchor="end" fill="#222222" >650</text>
<text transform="translate(200.30,482.30) scale(1.0050,1.0250)" font-size="46.60" text-anchor="end" fill="#222222" >750</text>
<text transform="translate(200.30,267.30) scale(1.0050,1.0250)" font-size="46.60" text-anchor="end" fill="#222222" >850</text>
<text transform="translate(831.80,1217.40) scale(1.0060,1.0000)" font-size="70.00" text-anchor="middle" fill="#222222" >Time/s</text>
<text transform="translate(105.0,914.2) rotate(-90) scale(1,1.03)" font-size="69.7" fill="#222222">Mesh stiffness/(N•m</text>
<text transform="translate(69.1,333.3) rotate(-90)" font-size="56" fill="#222222">−1</text>
<text transform="translate(104.4,273.5) rotate(-90)" font-size="72" fill="#222222">)</text>
<ellipse cx="618.3" cy="116.5" rx="108" ry="71" fill="none" stroke="#FF0000" stroke-width="5"/>
<ellipse cx="1194.7" cy="90" rx="108" ry="71" fill="none" stroke="#FF0000" stroke-width="5"/>
<text x="571.50" y="157.50" font-size="38.00" text-anchor="middle" fill="#000" >A</text>
<text x="1183.30" y="141.00" font-size="38.00" text-anchor="middle" fill="#000" >B</text>
<line x1="528.6" y1="179.4" x2="436" y2="252.8" stroke="#000" stroke-width="3"/>
<polygon points="419.8,265.7 441.4,231.0 443.0,247.5 459.6,253.5" fill="#000" stroke="#000" stroke-width="2.4" stroke-linejoin="bevel"/>
<line x1="1241.4" y1="169.2" x2="1283" y2="272" stroke="#000" stroke-width="3"/>
<polygon points="1289.9,289.3 1261.5,259.0 1279.0,262.2 1289.2,248.2" fill="#000" stroke="#000" stroke-width="2.4" stroke-linejoin="bevel"/>
<rect x="342.7" y="289.6" width="324.9" height="220.9" fill="#fdfdfd"/>
<g stroke="#222222" stroke-width="2.8" fill="none">
<rect x="342.7" y="289.6" width="324.9" height="220.9"/>
<line x1="407.50" y1="510.5" x2="407.50" y2="505.2"/>
<line x1="407.50" y1="289.6" x2="407.50" y2="294.2"/>
<line x1="508.45" y1="510.5" x2="508.45" y2="505.2"/>
<line x1="508.45" y1="289.6" x2="508.45" y2="294.2"/>
<line x1="609.40" y1="510.5" x2="609.40" y2="505.2"/>
<line x1="609.40" y1="289.6" x2="609.40" y2="294.2"/>
<line x1="342.7" y1="464.35" x2="348.0" y2="464.35"/>
<line x1="667.6" y1="464.35" x2="663.2" y2="464.35"/>
<line x1="342.7" y1="413.05" x2="348.0" y2="413.05"/>
<line x1="667.6" y1="413.05" x2="663.2" y2="413.05"/>
<line x1="342.7" y1="361.75" x2="348.0" y2="361.75"/>
<line x1="667.6" y1="361.75" x2="663.2" y2="361.75"/>
<line x1="342.7" y1="310.45" x2="348.0" y2="310.45"/>
<line x1="667.6" y1="310.45" x2="663.2" y2="310.45"/>
</g>
<polyline clip-path="url(#ca)" points="104.65,1340.55 124.84,1345.17 145.03,1349.79 165.22,1354.40 185.41,428.44 205.60,411.25 225.79,392.60 245.98,376.11 266.17,361.55 286.36,348.67 306.55,337.30 326.74,327.64 346.93,320.71 367.12,314.30 387.31,310.75 407.50,309.17 427.69,309.41 447.88,311.48 468.07,315.46 488.26,321.56 508.45,329.94 528.64,340.46 548.83,352.99 569.02,367.78 589.21,385.08 609.40,404.82 629.59,426.85 649.78,451.04 669.97,1367.11 690.16,1367.11 710.35,1360.85 730.54,1355.18 750.73,1349.95 770.92,1345.52 791.11,1341.99 811.30,1339.43 831.49,1337.74 851.68,1336.93 871.87,1336.93 892.06,1336.93 912.25,1338.14 932.44,1340.51 952.63,1343.32 972.82,1346.95 993.01,1348.23 1013.20,447.16 1033.39,424.19 1053.58,403.82 1073.77,385.94 1093.96,370.47 1114.15,357.18 1134.34,345.33 1154.53,334.39 1174.72,325.07 1194.91,318.10 1215.10,313.01 1235.29,309.35 1255.48,307.88 1275.67,309.35 1295.86,313.01 1316.05,318.08 1336.24,324.81 1356.43,333.65 1376.62,344.56 1396.81,357.51 1417.00,372.78 1437.19,390.65 1457.38,411.00 1477.57,434.08 1497.76,458.19 1517.95,1370.31 1538.14,1363.90 1558.33,1358.25 1578.52,1352.61 1598.71,1346.97" fill="none" stroke="#0072BD" stroke-width="3.40" stroke-linejoin="miter" stroke-miterlimit="3"/>
<rect x="358.89" y="306.07" width="16.46" height="16.46" fill="#0072BD"/>
<rect x="399.27" y="300.94" width="16.46" height="16.46" fill="#0072BD"/>
<rect x="439.65" y="303.24" width="16.46" height="16.46" fill="#0072BD"/>
<rect x="480.03" y="313.32" width="16.46" height="16.46" fill="#0072BD"/>
<rect x="520.41" y="332.23" width="16.46" height="16.46" fill="#0072BD"/>
<rect x="560.79" y="359.55" width="16.46" height="16.46" fill="#0072BD"/>
<rect x="601.17" y="396.58" width="16.46" height="16.46" fill="#0072BD"/>
<rect x="641.55" y="442.81" width="16.46" height="16.46" fill="#0072BD"/>
<polyline clip-path="url(#ca)" points="104.65,1340.55 124.84,1345.17 145.03,1349.79 165.22,1354.40 185.41,428.44 205.60,411.25 225.79,392.60 245.98,376.11 266.17,361.55 286.36,348.67 306.55,337.30 326.74,327.64 346.93,320.71 367.12,314.30 387.31,310.75 407.50,309.17 427.69,309.41 447.88,311.48 468.07,315.46 488.26,321.56 508.45,329.94 528.64,340.46 548.83,352.99 569.02,367.78 589.21,385.08 609.40,404.82 629.59,426.85 649.78,451.04 669.97,1369.50 690.16,1369.50 710.35,1367.43 730.54,1365.80 750.73,1364.39 770.92,1363.65 791.11,1364.10 811.30,1364.96 831.49,1366.30 851.68,1367.23 871.87,1366.25 892.06,1364.61 912.25,1363.52 932.44,1361.98 952.63,1356.52 972.82,1346.83 993.01,1348.11 1013.20,447.16 1033.39,424.19 1053.58,403.82 1073.77,385.94 1093.96,370.47 1114.15,357.18 1134.34,345.33 1154.53,334.39 1174.72,325.07 1194.91,318.10 1215.10,313.01 1235.29,309.35 1255.48,307.88 1275.67,309.35 1295.86,313.01 1316.05,318.08 1336.24,324.81 1356.43,333.65 1376.62,344.56 1396.81,357.51 1417.00,372.78 1437.19,390.65 1457.38,411.00 1477.57,434.08 1497.76,458.19 1517.95,1370.31 1538.14,1363.90 1558.33,1358.25 1578.52,1352.61 1598.71,1346.97" fill="none" stroke="#FA5210" stroke-width="4.40" stroke-linejoin="miter" stroke-miterlimit="3"/>
<circle cx="367.12" cy="314.30" r="12.00" fill="#FA5210"/>
<circle cx="407.50" cy="309.17" r="12.00" fill="#FA5210"/>
<circle cx="447.88" cy="311.48" r="12.00" fill="#FA5210"/>
<circle cx="488.26" cy="321.56" r="12.00" fill="#FA5210"/>
<circle cx="528.64" cy="340.46" r="12.00" fill="#FA5210"/>
<circle cx="569.02" cy="367.78" r="12.00" fill="#FA5210"/>
<circle cx="609.40" cy="404.82" r="12.00" fill="#FA5210"/>
<circle cx="649.78" cy="451.04" r="12.00" fill="#FA5210"/>
<polyline clip-path="url(#ca)" points="104.65,1340.55 124.84,1345.17 145.03,1349.79 165.22,1354.40 185.41,428.44 205.60,411.25 225.79,392.60 245.98,376.11 266.17,361.56 286.36,348.67 306.55,337.29 326.74,327.64 346.93,320.71 367.12,314.30 387.31,310.64 407.50,308.91 427.69,309.06 447.88,311.22 468.07,315.43 488.26,321.30 508.45,328.78 528.64,339.69 548.83,355.49 569.02,374.42 589.21,394.55 609.40,416.31 629.59,440.75 649.78,468.92 669.97,1391.69 690.16,1391.69 710.35,1389.56 730.54,1388.70 750.73,1389.05 770.92,1389.90 791.11,1392.31 811.30,1395.86 831.49,1399.47 851.68,1403.14 871.87,1406.34 892.06,1409.58 912.25,1413.14 932.44,1417.22 952.63,1422.29 972.82,1428.31 993.01,1433.86 1013.20,447.16 1033.39,424.19 1053.58,403.82 1073.77,385.94 1093.96,370.47 1114.15,357.18 1134.34,345.33 1154.53,334.39 1174.72,325.07 1194.91,318.10 1215.10,313.01 1235.29,309.35 1255.48,307.88 1275.67,309.35 1295.86,313.01 1316.05,318.08 1336.24,324.81 1356.43,333.65 1376.62,344.56 1396.81,357.51 1417.00,372.78 1437.19,390.65 1457.38,411.00 1477.57,434.08 1497.76,458.19 1517.95,1370.31 1538.14,1363.90 1558.33,1358.25 1578.52,1352.61 1598.71,1346.97" fill="none" stroke="#FFB00D" stroke-width="5.00" stroke-linejoin="miter" stroke-miterlimit="3"/>
<polygon points="367.12,298.61 370.64,309.45 382.04,309.45 372.82,316.15 376.34,326.99 367.12,320.29 357.90,326.99 361.42,316.15 352.20,309.45 363.60,309.45" fill="#FFB00D"/>
<polygon points="407.50,293.23 411.02,304.06 422.42,304.06 413.20,310.76 416.72,321.60 407.50,314.90 398.28,321.60 401.80,310.76 392.58,304.06 403.98,304.06" fill="#FFB00D"/>
<polygon points="447.88,295.54 451.40,306.37 462.80,306.37 453.58,313.07 457.10,323.91 447.88,317.21 438.66,323.91 442.18,313.07 432.96,306.37 444.36,306.37" fill="#FFB00D"/>
<polygon points="488.26,305.62 491.78,316.45 503.18,316.45 493.96,323.15 497.48,333.99 488.26,327.29 479.04,333.99 482.56,323.15 473.34,316.45 484.74,316.45" fill="#FFB00D"/>
<polygon points="528.64,324.01 532.16,334.84 543.56,334.84 534.34,341.54 537.86,352.38 528.64,345.68 519.42,352.38 522.94,341.54 513.72,334.84 525.12,334.84" fill="#FFB00D"/>
<polygon points="569.02,358.74 572.54,369.57 583.94,369.57 574.72,376.27 578.24,387.11 569.02,380.41 559.80,387.11 563.32,376.27 554.10,369.57 565.50,369.57" fill="#FFB00D"/>
<polygon points="609.40,400.62 612.92,411.46 624.32,411.46 615.10,418.16 618.62,429.00 609.40,422.30 600.18,429.00 603.70,418.16 594.48,411.46 605.88,411.46" fill="#FFB00D"/>
<polygon points="649.78,453.23 653.30,464.07 664.70,464.07 655.48,470.77 659.00,481.60 649.78,474.91 640.56,481.60 644.08,470.77 634.86,464.07 646.26,464.07" fill="#FFB00D"/>
<polyline clip-path="url(#ca)" points="104.65,1340.55 124.84,1345.17 145.03,1349.79 165.22,1354.40 185.41,428.44 205.60,411.25 225.79,392.60 245.98,376.11 266.17,361.55 286.36,348.67 306.55,337.31 326.74,327.64 346.93,320.71 367.12,314.30 387.31,311.15 407.50,310.45 427.69,312.15 447.88,316.09 468.07,322.15 488.26,330.51 508.45,341.35 528.64,354.52 548.83,369.84 569.02,387.45 589.21,407.57 609.40,430.62 629.59,457.05 649.78,487.31 669.97,1414.24 690.16,1414.24 710.35,1414.50 730.54,1415.19 750.73,1417.54 770.92,1421.63 791.11,1427.58 811.30,1434.52 831.49,1440.94 851.68,1446.69 871.87,1450.87 892.06,1454.92 912.25,1459.93 932.44,1465.54 952.63,1471.68 972.82,1478.42 993.01,1484.86 1013.20,447.16 1033.39,426.03 1053.58,407.41 1073.77,390.97 1093.96,376.37 1114.15,363.36 1134.34,352.00 1154.53,342.37 1174.72,334.30 1194.91,327.65 1215.10,322.51 1235.29,318.83 1255.48,315.84 1275.67,313.18 1295.86,313.01 1316.05,317.32 1336.24,324.81 1356.43,333.85 1376.62,344.56 1396.81,357.45 1417.00,372.78 1437.19,390.67 1457.38,411.00 1477.57,434.08 1497.76,458.19 1517.95,1370.31 1538.14,1363.90 1558.33,1358.25 1578.52,1352.61 1598.71,1346.97" fill="none" stroke="#8E2C92" stroke-width="5.00" stroke-linejoin="miter" stroke-miterlimit="3"/>
<polygon points="367.12,297.59 379.12,314.30 367.12,331.01 355.12,314.30" fill="#8E2C92"/>
<polygon points="407.50,293.74 419.50,310.45 407.50,327.16 395.50,310.45" fill="#8E2C92"/>
<polygon points="447.88,299.38 459.88,316.09 447.88,332.80 435.88,316.09" fill="#8E2C92"/>
<polygon points="488.26,313.80 500.26,330.51 488.26,347.22 476.26,330.51" fill="#8E2C92"/>
<polygon points="528.64,337.81 540.64,354.52 528.64,371.23 516.64,354.52" fill="#8E2C92"/>
<polygon points="569.02,370.74 581.02,387.45 569.02,404.16 557.02,387.45" fill="#8E2C92"/>
<polygon points="609.40,413.91 621.40,430.62 609.40,447.33 597.40,430.62" fill="#8E2C92"/>
<polygon points="649.78,470.60 661.78,487.31 649.78,504.02 637.78,487.31" fill="#8E2C92"/>
<polyline clip-path="url(#ca)" points="104.65,1340.55 124.84,1345.17 145.03,1349.79 165.22,1354.40 185.41,428.44 205.60,411.25 225.79,392.46 245.98,376.11 266.17,361.69 286.36,348.67 306.55,336.89 326.74,327.64 346.93,324.30 367.12,318.91 387.31,317.10 407.50,316.86 427.69,318.77 447.88,323.02 468.07,329.72 488.26,338.92 508.45,350.68 528.64,364.98 548.83,381.87 569.02,401.51 589.21,424.07 609.40,449.52 629.59,477.79 649.78,508.78 669.97,1440.60 690.16,1440.60 710.35,1443.91 730.54,1448.59 750.73,1454.87 770.92,1463.03 791.11,1474.12 811.30,1486.29 831.49,1497.95 851.68,1507.41 871.87,1512.59 892.06,1517.19 912.25,1523.23 932.44,1529.84 952.63,1536.69 972.82,1543.92 993.01,1550.96 1013.20,447.16 1033.39,430.53 1053.58,413.31 1073.77,396.72 1093.96,382.01 1114.15,370.04 1134.34,360.21 1154.53,351.74 1174.72,344.56 1194.91,338.86 1215.10,335.07 1235.29,333.55 1255.48,333.79 1275.67,335.32 1295.86,338.41 1316.05,343.37 1336.24,349.95 1356.43,357.73 1376.62,366.11 1396.81,374.75 1417.00,384.32 1437.19,395.90 1457.38,411.00 1477.57,434.08 1497.76,458.19 1517.95,1370.31 1538.14,1363.90 1558.33,1358.25 1578.52,1352.61 1598.71,1346.97" fill="none" stroke="#55AA18" stroke-width="5.00" stroke-linejoin="miter" stroke-miterlimit="3"/>
<polygon points="367.12,304.69 371.35,311.80 379.81,311.80 375.58,318.91 379.81,326.03 371.35,326.03 367.12,333.14 362.89,326.03 354.43,326.03 358.66,318.91 354.43,311.80 362.89,311.80" fill="#55AA18"/>
<polygon points="407.50,302.64 411.73,309.75 420.19,309.75 415.96,316.86 420.19,323.98 411.73,323.98 407.50,331.09 403.27,323.98 394.81,323.98 399.04,316.86 394.81,309.75 403.27,309.75" fill="#55AA18"/>
<polygon points="447.88,308.79 452.11,315.90 460.57,315.91 456.34,323.02 460.57,330.13 452.11,330.13 447.88,337.24 443.65,330.13 435.19,330.13 439.42,323.02 435.19,315.91 443.65,315.90" fill="#55AA18"/>
<polygon points="488.26,324.70 492.49,331.81 500.95,331.81 496.72,338.92 500.95,346.03 492.49,346.04 488.26,353.15 484.03,346.04 475.57,346.03 479.80,338.92 475.57,331.81 484.03,331.81" fill="#55AA18"/>
<polygon points="528.64,350.76 532.87,357.87 541.33,357.87 537.10,364.98 541.33,372.09 532.87,372.10 528.64,379.21 524.41,372.10 515.95,372.09 520.18,364.98 515.95,357.87 524.41,357.87" fill="#55AA18"/>
<polygon points="569.02,387.28 573.25,394.39 581.71,394.39 577.48,401.51 581.71,408.62 573.25,408.62 569.02,415.73 564.79,408.62 556.33,408.62 560.56,401.51 556.33,394.39 564.79,394.39" fill="#55AA18"/>
<polygon points="609.40,435.30 613.63,442.41 622.09,442.41 617.86,449.52 622.09,456.64 613.63,456.64 609.40,463.75 605.17,456.64 596.71,456.64 600.94,449.52 596.71,442.41 605.17,442.41" fill="#55AA18"/>
<polygon points="649.78,494.55 654.01,501.66 662.47,501.66 658.24,508.78 662.47,515.89 654.01,515.89 649.78,523.00 645.55,515.89 637.09,515.89 641.32,508.78 637.09,501.66 645.55,501.66" fill="#55AA18"/>
<text x="406.50" y="545.80" font-size="31.20" text-anchor="middle" fill="#222222" >0.022</text>
<text x="507.45" y="545.80" font-size="31.20" text-anchor="middle" fill="#222222" >0.0225</text>
<text x="608.40" y="545.80" font-size="31.20" text-anchor="middle" fill="#222222" >0.023</text>
<text x="335.80" y="475.05" font-size="31.20" text-anchor="end" fill="#222222" >880</text>
<text x="335.80" y="423.75" font-size="31.20" text-anchor="end" fill="#222222" >900</text>
<text x="335.80" y="372.45" font-size="31.20" text-anchor="end" fill="#222222" >920</text>
<text x="335.80" y="321.15" font-size="31.20" text-anchor="end" fill="#222222" >940</text>
<rect x="1061.7" y="302.3" width="324.9" height="221.2" fill="#fdfdfd"/>
<g stroke="#222222" stroke-width="2.8" fill="none">
<rect x="1061.7" y="302.3" width="324.9" height="221.2"/>
<line x1="1071.40" y1="523.5" x2="1071.40" y2="519.1"/>
<line x1="1071.40" y1="302.3" x2="1071.40" y2="306.7"/>
<line x1="1213.40" y1="523.5" x2="1213.40" y2="519.1"/>
<line x1="1213.40" y1="302.3" x2="1213.40" y2="306.7"/>
<line x1="1355.40" y1="523.5" x2="1355.40" y2="519.1"/>
<line x1="1355.40" y1="302.3" x2="1355.40" y2="306.7"/>
<line x1="1061.7" y1="507.40" x2="1066.1" y2="507.40"/>
<line x1="1386.6" y1="507.40" x2="1382.2" y2="507.40"/>
<line x1="1061.7" y1="412.40" x2="1066.1" y2="412.40"/>
<line x1="1386.6" y1="412.40" x2="1382.2" y2="412.40"/>
<line x1="1061.7" y1="317.40" x2="1066.1" y2="317.40"/>
<line x1="1386.6" y1="317.40" x2="1382.2" y2="317.40"/>
</g>
<polyline clip-path="url(#cb)" points="432.40,2225.00 446.60,2233.55 460.80,2242.10 475.00,2250.65 489.20,535.90 503.40,504.07 517.60,469.53 531.80,439.00 546.00,412.04 560.20,388.17 574.40,367.12 588.60,349.23 602.80,336.40 617.00,324.52 631.20,317.96 645.40,315.02 659.60,315.47 673.80,319.30 688.00,326.67 702.20,337.97 716.40,353.49 730.60,372.98 744.80,396.18 759.00,423.56 773.20,455.59 787.40,492.15 801.60,532.96 815.80,577.75 830.00,2274.18 844.20,2274.18 858.40,2262.58 872.60,2252.09 886.80,2242.40 901.00,2234.19 915.20,2227.65 929.40,2222.92 943.60,2219.78 957.80,2218.28 972.00,2218.28 986.20,2218.28 1000.40,2220.53 1014.60,2224.91 1028.80,2230.12 1043.00,2236.84 1057.20,2239.22 1071.40,570.57 1085.60,528.03 1099.80,490.30 1114.00,457.20 1128.20,428.55 1142.40,403.94 1156.60,382.00 1170.80,361.74 1185.00,344.48 1199.20,331.57 1213.40,322.15 1227.60,315.36 1241.80,312.65 1256.00,315.36 1270.20,322.15 1284.40,331.53 1298.60,344.00 1312.80,360.36 1327.00,380.57 1341.20,404.55 1355.40,432.82 1369.60,465.92 1383.80,503.60 1398.00,546.35 1412.20,591.00 1426.40,2280.10 1440.60,2268.23 1454.80,2257.78 1469.00,2247.32 1483.20,2236.87" fill="none" stroke="#0072BD" stroke-width="3.40" stroke-linejoin="miter" stroke-miterlimit="3"/>
<rect x="1091.57" y="482.07" width="16.46" height="16.46" fill="#0072BD"/>
<rect x="1119.97" y="420.32" width="16.46" height="16.46" fill="#0072BD"/>
<rect x="1148.37" y="373.77" width="16.46" height="16.46" fill="#0072BD"/>
<rect x="1176.77" y="336.24" width="16.46" height="16.46" fill="#0072BD"/>
<rect x="1205.17" y="313.92" width="16.46" height="16.46" fill="#0072BD"/>
<rect x="1233.57" y="304.42" width="16.46" height="16.46" fill="#0072BD"/>
<rect x="1261.97" y="313.92" width="16.46" height="16.46" fill="#0072BD"/>
<rect x="1290.37" y="335.77" width="16.46" height="16.46" fill="#0072BD"/>
<rect x="1318.77" y="372.34" width="16.46" height="16.46" fill="#0072BD"/>
<rect x="1347.17" y="424.59" width="16.46" height="16.46" fill="#0072BD"/>
<rect x="1375.57" y="495.37" width="16.46" height="16.46" fill="#0072BD"/>
<polyline clip-path="url(#cb)" points="432.40,2225.00 446.60,2233.55 460.80,2242.10 475.00,2250.65 489.20,535.90 503.40,504.07 517.60,469.53 531.80,439.00 546.00,412.04 560.20,388.17 574.40,367.12 588.60,349.23 602.80,336.40 617.00,324.52 631.20,317.96 645.40,315.02 659.60,315.47 673.80,319.30 688.00,326.67 702.20,337.97 716.40,353.49 730.60,372.98 744.80,396.18 759.00,423.56 773.20,455.59 787.40,492.15 801.60,532.96 815.80,577.75 830.00,2278.60 844.20,2278.60 858.40,2274.77 872.60,2271.75 886.80,2269.13 901.00,2267.77 915.20,2268.60 929.40,2270.20 943.60,2272.69 957.80,2274.40 972.00,2272.58 986.20,2269.54 1000.40,2267.54 1014.60,2264.68 1028.80,2254.57 1043.00,2236.62 1057.20,2239.00 1071.40,570.57 1085.60,528.03 1099.80,490.30 1114.00,457.20 1128.20,428.55 1142.40,403.94 1156.60,382.00 1170.80,361.74 1185.00,344.48 1199.20,331.57 1213.40,322.15 1227.60,315.36 1241.80,312.65 1256.00,315.36 1270.20,322.15 1284.40,331.53 1298.60,344.00 1312.80,360.36 1327.00,380.57 1341.20,404.55 1355.40,432.82 1369.60,465.92 1383.80,503.60 1398.00,546.35 1412.20,591.00 1426.40,2280.10 1440.60,2268.23 1454.80,2257.78 1469.00,2247.32 1483.20,2236.87" fill="none" stroke="#FA5210" stroke-width="4.40" stroke-linejoin="miter" stroke-miterlimit="3"/>
<circle cx="1099.80" cy="490.30" r="12.00" fill="#FA5210"/>
<circle cx="1128.20" cy="428.55" r="12.00" fill="#FA5210"/>
<circle cx="1156.60" cy="382.00" r="12.00" fill="#FA5210"/>
<circle cx="1185.00" cy="344.48" r="12.00" fill="#FA5210"/>
<circle cx="1213.40" cy="322.15" r="12.00" fill="#FA5210"/>
<circle cx="1241.80" cy="312.65" r="12.00" fill="#FA5210"/>
<circle cx="1270.20" cy="322.15" r="12.00" fill="#FA5210"/>
<circle cx="1298.60" cy="344.00" r="12.00" fill="#FA5210"/>
<circle cx="1327.00" cy="380.57" r="12.00" fill="#FA5210"/>
<circle cx="1355.40" cy="432.82" r="12.00" fill="#FA5210"/>
<circle cx="1383.80" cy="503.60" r="12.00" fill="#FA5210"/>
<polyline clip-path="url(#cb)" points="432.40,2225.00 446.60,2233.55 460.80,2242.10 475.00,2250.65 489.20,535.90 503.40,504.07 517.60,469.52 531.80,439.00 546.00,412.04 560.20,388.17 574.40,367.11 588.60,349.23 602.80,336.40 617.00,324.52 631.20,317.75 645.40,314.55 659.60,314.83 673.80,318.82 688.00,326.62 702.20,337.49 716.40,351.35 730.60,371.55 744.80,400.80 759.00,435.87 773.20,473.13 787.40,513.43 801.60,558.69 815.80,610.85 830.00,2319.69 844.20,2319.69 858.40,2315.76 872.60,2314.17 886.80,2314.81 901.00,2316.38 915.20,2320.84 929.40,2327.42 943.60,2334.10 957.80,2340.90 972.00,2346.83 986.20,2352.83 1000.40,2359.42 1014.60,2366.97 1028.80,2376.37 1043.00,2387.52 1057.20,2397.79 1071.40,570.57 1085.60,528.03 1099.80,490.30 1114.00,457.20 1128.20,428.55 1142.40,403.94 1156.60,382.00 1170.80,361.74 1185.00,344.48 1199.20,331.57 1213.40,322.15 1227.60,315.36 1241.80,312.65 1256.00,315.36 1270.20,322.15 1284.40,331.53 1298.60,344.00 1312.80,360.36 1327.00,380.57 1341.20,404.55 1355.40,432.82 1369.60,465.92 1383.80,503.60 1398.00,546.35 1412.20,591.00 1426.40,2280.10 1440.60,2268.23 1454.80,2257.78 1469.00,2247.32 1483.20,2236.87" fill="none" stroke="#FFB00D" stroke-width="5.00" stroke-linejoin="miter" stroke-miterlimit="3"/>
<polygon points="1099.80,474.62 1103.32,485.45 1114.72,485.45 1105.50,492.15 1109.02,502.99 1099.80,496.29 1090.58,502.99 1094.10,492.15 1084.88,485.45 1096.28,485.45" fill="#FFB00D"/>
<polygon points="1128.20,412.87 1131.72,423.70 1143.12,423.70 1133.90,430.40 1137.42,441.24 1128.20,434.54 1118.98,441.24 1122.50,430.40 1113.28,423.70 1124.68,423.70" fill="#FFB00D"/>
<polygon points="1156.60,366.32 1160.12,377.15 1171.52,377.15 1162.30,383.85 1165.82,394.69 1156.60,387.99 1147.38,394.69 1150.90,383.85 1141.68,377.15 1153.08,377.15" fill="#FFB00D"/>
<polygon points="1185.00,328.79 1188.52,339.63 1199.92,339.63 1190.70,346.33 1194.22,357.16 1185.00,350.47 1175.78,357.16 1179.30,346.33 1170.08,339.63 1181.48,339.63" fill="#FFB00D"/>
<polygon points="1213.40,306.47 1216.92,317.30 1228.32,317.30 1219.10,324.00 1222.62,334.84 1213.40,328.14 1204.18,334.84 1207.70,324.00 1198.48,317.30 1209.88,317.30" fill="#FFB00D"/>
<polygon points="1241.80,296.97 1245.32,307.80 1256.72,307.80 1247.50,314.50 1251.02,325.34 1241.80,318.64 1232.58,325.34 1236.10,314.50 1226.88,307.80 1238.28,307.80" fill="#FFB00D"/>
<polygon points="1270.20,306.47 1273.72,317.30 1285.12,317.30 1275.90,324.00 1279.42,334.84 1270.20,328.14 1260.98,334.84 1264.50,324.00 1255.28,317.30 1266.68,317.30" fill="#FFB00D"/>
<polygon points="1298.60,328.32 1302.12,339.15 1313.52,339.15 1304.30,345.85 1307.82,356.69 1298.60,349.99 1289.38,356.69 1292.90,345.85 1283.68,339.15 1295.08,339.15" fill="#FFB00D"/>
<polygon points="1327.00,364.89 1330.52,375.73 1341.92,375.73 1332.70,382.43 1336.22,393.26 1327.00,386.57 1317.78,393.26 1321.30,382.43 1312.08,375.73 1323.48,375.73" fill="#FFB00D"/>
<polygon points="1355.40,417.14 1358.92,427.98 1370.32,427.98 1361.10,434.68 1364.62,445.51 1355.40,438.82 1346.18,445.51 1349.70,434.68 1340.48,427.98 1351.88,427.98" fill="#FFB00D"/>
<polygon points="1383.80,487.92 1387.32,498.75 1398.72,498.75 1389.50,505.45 1393.02,516.29 1383.80,509.59 1374.58,516.29 1378.10,505.45 1368.88,498.75 1380.28,498.75" fill="#FFB00D"/>
<polyline clip-path="url(#cb)" points="432.40,2225.00 446.60,2233.55 460.80,2242.10 475.00,2250.65 489.20,535.90 503.40,504.07 517.60,469.54 531.80,439.00 546.00,412.03 560.20,388.17 574.40,367.15 588.60,349.23 602.80,336.40 617.00,324.52 631.20,318.69 645.40,317.40 659.60,320.56 673.80,327.85 688.00,339.07 702.20,354.55 716.40,374.62 730.60,399.00 744.80,427.39 759.00,459.99 773.20,497.26 787.40,539.94 801.60,588.88 815.80,644.91 830.00,2361.45 844.20,2361.45 858.40,2361.95 872.60,2363.21 886.80,2367.58 901.00,2375.14 915.20,2386.17 929.40,2399.00 943.60,2410.90 957.80,2421.54 972.00,2429.29 986.20,2436.78 1000.40,2446.07 1014.60,2456.45 1028.80,2467.83 1043.00,2480.31 1057.20,2492.24 1071.40,570.57 1085.60,531.43 1099.80,496.95 1114.00,466.50 1128.20,439.48 1142.40,415.39 1156.60,394.35 1170.80,376.51 1185.00,361.57 1199.20,349.26 1213.40,339.73 1227.60,332.92 1241.80,327.38 1256.00,322.45 1270.20,322.15 1284.40,330.12 1298.60,344.00 1312.80,360.74 1327.00,380.57 1341.20,404.44 1355.40,432.82 1369.60,465.96 1383.80,503.60 1398.00,546.35 1412.20,591.00 1426.40,2280.10 1440.60,2268.23 1454.80,2257.78 1469.00,2247.32 1483.20,2236.87" fill="none" stroke="#8E2C92" stroke-width="5.00" stroke-linejoin="miter" stroke-miterlimit="3"/>
<polygon points="1099.80,480.24 1111.80,496.95 1099.80,513.66 1087.80,496.95" fill="#8E2C92"/>
<polygon points="1128.20,422.76 1140.20,439.48 1128.20,456.19 1116.20,439.48" fill="#8E2C92"/>
<polygon points="1156.60,377.64 1168.60,394.35 1156.60,411.06 1144.60,394.35" fill="#8E2C92"/>
<polygon points="1185.00,344.86 1197.00,361.57 1185.00,378.29 1173.00,361.57" fill="#8E2C92"/>
<polygon points="1213.40,323.01 1225.40,339.73 1213.40,356.44 1201.40,339.73" fill="#8E2C92"/>
<polygon points="1241.80,310.66 1253.80,327.38 1241.80,344.09 1229.80,327.38" fill="#8E2C92"/>
<polygon points="1270.20,305.44 1282.20,322.15 1270.20,338.86 1258.20,322.15" fill="#8E2C92"/>
<polygon points="1298.60,327.29 1310.60,344.00 1298.60,360.71 1286.60,344.00" fill="#8E2C92"/>
<polygon points="1327.00,363.86 1339.00,380.57 1327.00,397.29 1315.00,380.57" fill="#8E2C92"/>
<polygon points="1355.40,416.11 1367.40,432.82 1355.40,449.54 1343.40,432.82" fill="#8E2C92"/>
<polygon points="1383.80,486.89 1395.80,503.60 1383.80,520.31 1371.80,503.60" fill="#8E2C92"/>
<polyline clip-path="url(#cb)" points="432.40,2225.00 446.60,2233.55 460.80,2242.10 475.00,2250.65 489.20,535.90 503.40,504.07 517.60,469.27 531.80,439.00 546.00,412.29 560.20,388.17 574.40,366.36 588.60,349.23 602.80,343.05 617.00,333.07 631.20,329.72 645.40,329.27 659.60,332.80 673.80,340.67 688.00,353.08 702.20,370.13 716.40,391.89 730.60,418.38 744.80,449.65 759.00,486.02 773.20,527.81 787.40,574.95 801.60,627.28 815.80,684.67 830.00,2410.27 844.20,2410.27 858.40,2416.40 872.60,2425.07 886.80,2436.70 901.00,2451.81 915.20,2472.35 929.40,2494.89 943.60,2516.47 957.80,2533.99 972.00,2543.59 986.20,2552.11 1000.40,2563.29 1014.60,2575.53 1028.80,2588.22 1043.00,2601.60 1057.20,2614.63 1071.40,570.57 1085.60,539.77 1099.80,507.88 1114.00,477.17 1128.20,449.92 1142.40,427.75 1156.60,409.55 1170.80,393.87 1185.00,380.57 1199.20,370.00 1213.40,363.00 1227.60,360.17 1241.80,360.63 1256.00,363.46 1270.20,369.17 1284.40,378.36 1298.60,390.55 1312.80,404.95 1327.00,420.48 1341.20,436.47 1355.40,454.20 1369.60,475.65 1383.80,503.60 1398.00,546.35 1412.20,591.00 1426.40,2280.10 1440.60,2268.23 1454.80,2257.78 1469.00,2247.32 1483.20,2236.87" fill="none" stroke="#55AA18" stroke-width="5.00" stroke-linejoin="miter" stroke-miterlimit="3"/>
<polygon points="1099.80,493.65 1104.03,500.76 1112.49,500.76 1108.26,507.88 1112.49,514.99 1104.03,514.99 1099.80,522.10 1095.57,514.99 1087.11,514.99 1091.34,507.88 1087.11,500.76 1095.57,500.76" fill="#55AA18"/>
<polygon points="1128.20,435.70 1132.43,442.81 1140.89,442.81 1136.66,449.92 1140.89,457.04 1132.43,457.04 1128.20,464.15 1123.97,457.04 1115.51,457.04 1119.74,449.92 1115.51,442.81 1123.97,442.81" fill="#55AA18"/>
<polygon points="1156.60,395.32 1160.83,402.44 1169.29,402.44 1165.06,409.55 1169.29,416.66 1160.83,416.66 1156.60,423.78 1152.37,416.66 1143.91,416.66 1148.14,409.55 1143.91,402.44 1152.37,402.44" fill="#55AA18"/>
<polygon points="1185.00,366.35 1189.23,373.46 1197.69,373.46 1193.46,380.57 1197.69,387.69 1189.23,387.69 1185.00,394.80 1180.77,387.69 1172.31,387.69 1176.54,380.57 1172.31,373.46 1180.77,373.46" fill="#55AA18"/>
<polygon points="1213.40,348.77 1217.63,355.89 1226.09,355.89 1221.86,363.00 1226.09,370.11 1217.63,370.11 1213.40,377.23 1209.17,370.11 1200.71,370.11 1204.94,363.00 1200.71,355.89 1209.17,355.89" fill="#55AA18"/>
<polygon points="1241.80,346.40 1246.03,353.51 1254.49,353.51 1250.26,360.63 1254.49,367.74 1246.03,367.74 1241.80,374.85 1237.57,367.74 1229.11,367.74 1233.34,360.63 1229.11,353.51 1237.57,353.51" fill="#55AA18"/>
<polygon points="1270.20,354.95 1274.43,362.06 1282.89,362.06 1278.66,369.17 1282.89,376.29 1274.43,376.29 1270.20,383.40 1265.97,376.29 1257.51,376.29 1261.74,369.17 1257.51,362.06 1265.97,362.06" fill="#55AA18"/>
<polygon points="1298.60,376.32 1302.83,383.44 1311.29,383.44 1307.06,390.55 1311.29,397.66 1302.83,397.66 1298.60,404.78 1294.37,397.66 1285.91,397.66 1290.14,390.55 1285.91,383.44 1294.37,383.44" fill="#55AA18"/>
<polygon points="1327.00,406.25 1331.23,413.36 1339.69,413.36 1335.46,420.48 1339.69,427.59 1331.23,427.59 1327.00,434.70 1322.77,427.59 1314.31,427.59 1318.54,420.48 1314.31,413.36 1322.77,413.36" fill="#55AA18"/>
<polygon points="1355.40,439.97 1359.63,447.09 1368.09,447.09 1363.86,454.20 1368.09,461.31 1359.63,461.31 1355.40,468.43 1351.17,461.31 1342.71,461.31 1346.94,454.20 1342.71,447.09 1351.17,447.09" fill="#55AA18"/>
<polygon points="1383.80,489.37 1388.03,496.49 1396.49,496.49 1392.26,503.60 1396.49,510.71 1388.03,510.71 1383.80,517.83 1379.57,510.71 1371.11,510.71 1375.34,503.60 1371.11,496.49 1379.57,496.49" fill="#55AA18"/>
<text x="1070.40" y="558.50" font-size="31.20" text-anchor="middle" fill="#222222" >0.025</text>
<text x="1212.40" y="558.50" font-size="31.20" text-anchor="middle" fill="#222222" >0.026</text>
<text x="1354.40" y="558.50" font-size="31.20" text-anchor="middle" fill="#222222" >0.027</text>
<text x="1053.30" y="518.10" font-size="31.20" text-anchor="end" fill="#222222" >900</text>
<text x="1053.30" y="423.10" font-size="31.20" text-anchor="end" fill="#222222" >920</text>
<text x="1053.30" y="328.10" font-size="31.20" text-anchor="end" fill="#222222" >940</text>
<line x1="1080.4" y1="766.70" x2="1198.8" y2="766.70" stroke="#0072BD" stroke-width="3.40"/>
<rect x="1127.70" y="755.40" width="22.60" height="22.60" fill="#0072BD"/>
<text transform="translate(1207.50,786.60) scale(1.0180,0.9900)" font-size="54.00" text-anchor="start" fill="#000" >health</text>
<line x1="1080.4" y1="832.60" x2="1198.8" y2="832.60" stroke="#FA5210" stroke-width="4.40"/>
<circle cx="1139.00" cy="832.60" r="14.00" fill="#FA5210"/>
<text transform="translate(1205.80,853.30) scale(1.0350,1.0000)" font-size="54.00" text-anchor="start" fill="#000" ><tspan font-style="italic">r</tspan>=5%</text>
<line x1="1080.4" y1="898.70" x2="1198.8" y2="898.70" stroke="#FFB00D" stroke-width="5.00"/>
<polygon points="1139.00,880.40 1143.11,893.04 1156.40,893.04 1145.65,900.86 1149.76,913.51 1139.00,905.69 1128.24,913.51 1132.35,900.86 1121.60,893.04 1134.89,893.04" fill="#FFB00D"/>
<text transform="translate(1205.80,918.80) scale(1.0350,1.0000)" font-size="54.00" text-anchor="start" fill="#000" ><tspan font-style="italic">r</tspan>=10%</text>
<line x1="1080.4" y1="964.60" x2="1198.8" y2="964.60" stroke="#8E2C92" stroke-width="5.00"/>
<polygon points="1139.00,945.10 1153.00,964.60 1139.00,984.10 1125.00,964.60" fill="#8E2C92"/>
<text transform="translate(1205.80,984.60) scale(1.0350,1.0000)" font-size="54.00" text-anchor="start" fill="#000" ><tspan font-style="italic">r</tspan>=15%</text>
<line x1="1080.4" y1="1030.70" x2="1198.8" y2="1030.70" stroke="#55AA18" stroke-width="5.00"/>
<polygon points="1139.00,1014.10 1143.94,1022.40 1153.81,1022.40 1148.87,1030.70 1153.81,1039.00 1143.94,1039.00 1139.00,1047.30 1134.06,1039.00 1124.19,1039.00 1129.13,1030.70 1124.19,1022.40 1134.06,1022.40" fill="#55AA18"/>
<text transform="translate(1205.80,1050.40) scale(1.0350,1.0000)" font-size="54.00" text-anchor="start" fill="#000" ><tspan font-style="italic">r</tspan>=20%</text>
</svg>
</body></html>
